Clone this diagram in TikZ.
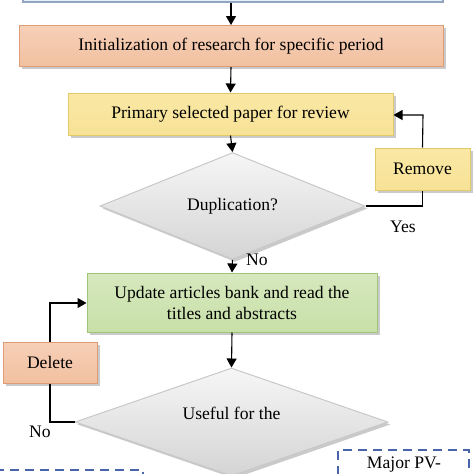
\documentclass[tikz,border=0pt]{standalone}
\usepackage{fontspec}
\setmainfont{Liberation Serif}
\usetikzlibrary{shapes.geometric,arrows.meta,shadows}
\definecolor{orLine}{RGB}{222,156,116}
\definecolor{orTop}{RGB}{246,208,184}
\definecolor{orMid}{RGB}{253,242,235}
\definecolor{orBot}{RGB}{242,192,160}
\definecolor{yeLine}{RGB}{226,202,104}
\definecolor{yeTop}{RGB}{250,232,165}
\definecolor{yeMid}{RGB}{255,251,228}
\definecolor{yeBot}{RGB}{247,226,150}
\definecolor{grLine}{RGB}{160,196,122}
\definecolor{grTop}{RGB}{214,232,190}
\definecolor{grMid}{RGB}{238,246,228}
\definecolor{grBot}{RGB}{200,224,168}
\definecolor{diLine}{RGB}{200,200,200}
\definecolor{diTop}{RGB}{246,246,246}
\definecolor{diBot}{RGB}{212,212,212}
\definecolor{blLine}{RGB}{145,165,195}
\definecolor{blFill}{RGB}{232,238,246}
\definecolor{dashBlue}{RGB}{72,100,170}
\tikzset{
  fnt/.style={font=\fontsize{17.6}{21}\selectfont},
  shd/.style={drop shadow={shadow xshift=2.5pt,shadow yshift=-2.5pt,fill=black!35,opacity=0.6}},
  basebox/.style={rectangle,draw,line width=1pt,inner sep=0pt,align=center,fnt,shd},
  orbox/.style={basebox,draw=orLine,top color=orTop,middle color=orMid,bottom color=orBot},
  yebox/.style={basebox,draw=yeLine,top color=yeTop,middle color=yeMid,bottom color=yeBot},
  grbox/.style={basebox,draw=grLine,top color=grTop,middle color=grMid,bottom color=grBot},
  decision/.style={diamond,draw=diLine,line width=1pt,inner sep=0pt,top color=diTop,bottom color=diBot,shd,fnt},
  lbl/.style={inner sep=0pt,fnt},
  arr/.style={line width=1.1pt,-{Triangle[length=9pt,width=10pt]}},
  ln/.style={line width=1.1pt},
  dashbox/.style={draw=dashBlue,line width=1.8pt,dash pattern=on 9pt off 6pt}
}
\begin{document}
\begin{tikzpicture}[x=1pt,y=-1pt]
\useasboundingbox (0,0) rectangle (474,474);
% top box (cut off)
\node[rectangle,draw=blLine,fill=blFill,line width=1.2pt,minimum width=420pt,minimum height=40pt,inner sep=0pt] (top) at (233,-18) {};
\node[orbox,minimum width=424pt,minimum height=41pt] (init) at (231,46) {Initialization of research for specific period};
\node[yebox,minimum width=325pt,minimum height=42pt] (prim) at (230.5,114) {Primary selected paper for review};
\node[yebox,minimum width=95pt,minimum height=42pt] (remove) at (422.5,169) {Remove};
\node[decision,minimum width=265pt,minimum height=82pt] (dup) at (232.5,206) {Duplication?};
\node[grbox,minimum width=290pt,minimum height=59pt] (upd) at (232,302.5) {Update articles bank and read the\\titles and abstracts};
\node[orbox,minimum width=94pt,minimum height=41pt] (delete) at (50,362.5) {Delete};
\node[decision,minimum width=313pt,minimum height=108pt] (useful) at (231.5,422) {};
\node[lbl] (usefultxt) at (231.5,413) {Useful for the};
\node[lbl] (yes) at (403,227) {Yes};
\node[lbl] (no1) at (257,260) {No};
\node[lbl] (no2) at (40,432) {No};
% dashed boxes at the bottom
\coordinate (dl1) at (-5,470);
\coordinate (dl2) at (143,470);
\coordinate (dl3) at (143,490);
\draw[dashbox] (dl1) -- (dl2) -- (dl3);
\coordinate (dr1) at (338,490);
\coordinate (dr2) at (338,450);
\coordinate (dr3) at (469,450);
\coordinate (dr4) at (469,490);
\draw[dashbox] (dr1) -- (dr2) -- (dr3) -- (dr4);
\node[lbl] (major) at (404,465) {Major PV-};
% connectors
\draw[arr] (top.south -| init.north) -- (init.north);
\draw[arr] (init.south) -- (prim.north);
\draw[arr] (prim.south) -- (dup.north);
\draw[arr] (dup.south) -- (upd.north);
\draw[arr] (upd.south) -- (useful.north);
\coordinate (rt) at (423,115);
\draw[arr] (remove.north) -- (rt) -- (prim.east |- rt);
\draw[ln] (dup.east) -- (dup.east -| remove.south) -- (remove.south);
\draw[ln] (useful.west) -- (useful.west -| delete.south) -- (delete.south);
\coordinate (dt) at (50,303);
\draw[arr] (delete.north) -- (dt) -- (upd.west |- dt);
\end{tikzpicture}
\end{document}
